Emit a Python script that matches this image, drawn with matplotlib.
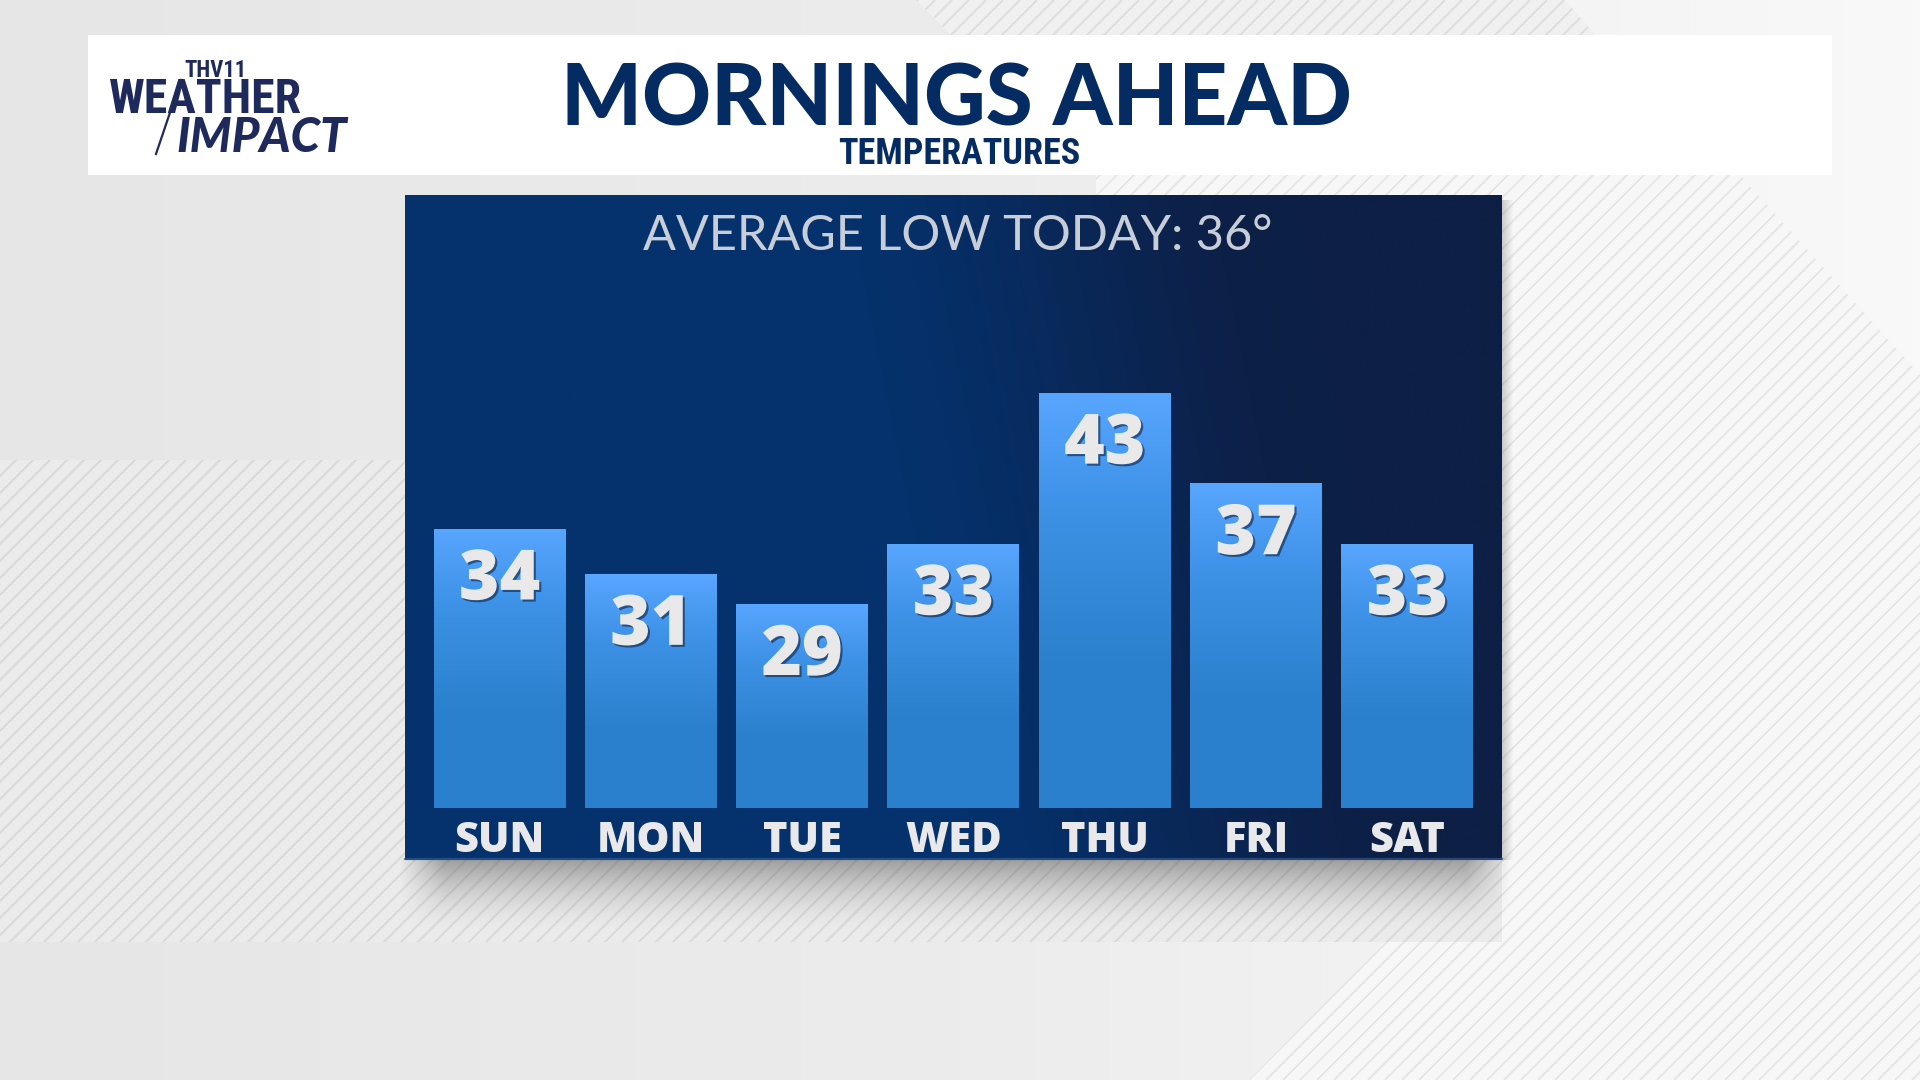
import numpy as np
import matplotlib
matplotlib.use("Agg")
import matplotlib.pyplot as plt
import matplotlib.patheffects as pe
from matplotlib.collections import LineCollection
from matplotlib.patches import Polygon, Rectangle
from matplotlib.colors import LinearSegmentedColormap, to_rgb

# ---- data ----
days = ["SUN", "MON", "TUE", "WED", "THU", "FRI", "SAT"]
lows = [34, 31, 29, 33, 43, 37, 33]
title = "MORNINGS AHEAD"
subtitle = "TEMPERATURES"
average_note = "AVERAGE LOW TODAY: 36\u00b0"

W, H = 1920, 1080
fig = plt.figure(figsize=(19.2, 10.8), dpi=100)

# background layer, drawn in pixel units
bg = fig.add_axes([0, 0, 1, 1])
bg.set_xlim(0, W)
bg.set_ylim(H, 0)
bg.axis("off")

base_cmap = LinearSegmentedColormap.from_list("base", ["#e6e6e6", "#ececec", "#f9f9f9"])
bg.imshow(np.linspace(0, 1, 256).reshape(1, -1), cmap=base_cmap,
          extent=(0, W, H, 0), aspect="auto", zorder=0)


def hatch(pts, line_color, face=None, lw=1.5, spacing=17):
    poly = Polygon(pts, closed=True, facecolor=face if face else "none",
                   edgecolor="none", zorder=1)
    bg.add_patch(poly)
    offs = np.arange(-H, W + H, spacing)
    segs = [[(o, H), (o + H, 0)] for o in offs]
    lc = LineCollection(segs, colors=line_color, linewidths=lw, zorder=2)
    bg.add_collection(lc)
    lc.set_clip_path(poly)


# top strip, lower band, right side
hatch([(916, 0), (1565, 0), (1596, 36), (952, 36)], "#dedede", face="#f0f0f0")
hatch([(0, 460), (1502, 460), (1502, 942), (0, 942)], "#d9d9d9", face="#ebebeb")
hatch([(1096, 175), (1740, 175), (1920, 375), (1920, H), (1249, H),
       (1384, 942), (1502, 942), (1502, 860), (1096, 860)], "#e6e6e6", face="#f7f7f7")

# header card
bg.add_patch(Rectangle((88, 35), 1744, 140, facecolor="white", edgecolor="none", zorder=3))

# panel shadow (soft, below and to the right)
ny, nx = 80, 300
yy = np.linspace(0, 1, ny)[:, None]
xx = np.linspace(0, 1, nx)[None, :]
edge = np.clip(np.minimum(xx, 1 - xx) / 0.04, 0, 1)
sh = np.zeros((ny, nx, 4))
sh[..., :3] = 0.3
sh[..., 3] = 0.5 * (1 - yy) ** 1.8 * edge
bg.imshow(sh, extent=(398, 1512, 935, 858), aspect="auto", zorder=3, interpolation="bilinear")
shr = np.zeros((2, 12, 4))
shr[..., :3] = 0.4
shr[..., 3] = np.linspace(0.3, 0.0, 12)[None, :]
bg.imshow(shr, extent=(1502, 1514, 860, 200), aspect="auto", zorder=3, interpolation="bilinear")

# panel gradient
px0, px1, py0, py1 = 405, 1502, 195, 860
gx = np.linspace(0, 1, 400)
gy = np.linspace(0, 1, 200)
GX, GY = np.meshgrid(gx, gy)
t = np.clip((GX - 0.42 + 0.12 * (0.5 - GY)) / 0.45, 0, 1)
t = t * t * (3 - 2 * t)
c0 = np.array(to_rgb("#05326d"))
c1 = np.array(to_rgb("#0d1f45"))
panel = c0[None, None, :] * (1 - t[..., None]) + c1[None, None, :] * t[..., None]
bg.imshow(panel, extent=(px0, px1, py1, py0), aspect="auto", zorder=4)
bg.plot([px0, px1], [py1 - 1.5, py1 - 1.5], color="#35598a", lw=1.6, alpha=0.7, zorder=5)
bg.set_xlim(0, W)
bg.set_ylim(H, 0)

# ---- bars ----
ax = fig.add_axes([px0 / W, 1 - 808 / H, (px1 - px0) / W, (808 - py0) / H])
ax.patch.set_alpha(0)
x = np.arange(len(days))
bars = ax.bar(x, lows, width=0.872, color="none", edgecolor="none")
bar_cmap = LinearSegmentedColormap.from_list(
    "bar", [(0, "#2a80cc"), (0.35, "#2b81cd"), (0.75, "#3f93e8"), (1, "#59a6ff")])
y_lo, y_hi = 15.5, 56.1
for b in bars:
    x0, w, h = b.get_x(), b.get_width(), b.get_height()
    im = ax.imshow(np.linspace(0, 1, 256).reshape(-1, 1), cmap=bar_cmap, origin="lower",
                   extent=(x0, x0 + w, y_lo, h), aspect="auto", zorder=2)
    im.set_clip_path(b)

for xi, v in zip(x, lows):
    ax.annotate(str(v), (xi, v), xytext=(0, -51), textcoords="offset points",
                ha="center", va="baseline", fontsize=50, fontweight=800,
                family=["Open Sans", "DejaVu Sans"], color="#e9e9e9", zorder=5,
                path_effects=[pe.withSimplePatchShadow(offset=(1.5, -1.5),
                                                       shadow_rgbFace="#0b2245", alpha=0.6)])

ax.set_xlim(-0.6246, 6.626)
ax.set_ylim(y_lo, y_hi)
ax.set_xticks(x, days)
ax.tick_params(axis="x", length=0, pad=31.5, labelsize=30, labelcolor="#e9e9eb")
ax.set_yticks([])
for lab in ax.get_xticklabels():
    lab.set_va("baseline")
    lab.set_fontweight(800)
    lab.set_family(["Open Sans", "DejaVu Sans"])
for s in ax.spines.values():
    s.set_visible(False)

# ---- texts ----
navy = "#1f2a5c"
narrow = ["Roboto Condensed", "Liberation Sans Narrow", "DejaVu Sans"]
t_avg = fig.text(958 / W, 1 - 250 / H, average_note, ha="center", va="baseline", fontsize=34,
                 family=["Lato", "DejaVu Sans"], fontweight="normal", color="#c8ced8")
t_title = fig.text(956 / W, 1 - 125 / H, title, ha="center", va="baseline", fontsize=64,
                   family=["Lato", "DejaVu Sans"], fontweight="black", color="#052c62")
t_sub = fig.text(959 / W, 1 - 164 / H, subtitle, ha="center", va="baseline", fontsize=29,
                 family=narrow, fontstretch="condensed", fontweight="bold", color="#052c62")

# logo
t_thv = fig.text(184 / W, 1 - 77 / H, "THV11", ha="left", va="baseline", fontsize=13,
                 family=narrow, fontstretch="condensed", fontweight="bold", color=navy)
t_wx = fig.text(109 / W, 1 - 113 / H, "WEATHER", ha="left", va="baseline", fontsize=33,
                family=narrow, fontstretch="condensed", fontweight="bold", color=navy)
t_imp = fig.text(176 / W, 1 - 152 / H, "IMPACT", ha="left", va="baseline", fontsize=34,
                 family=["Lato", "DejaVu Sans"], fontweight="black", style="italic", color=navy)
bg.plot([156, 181], [154, 80], color=navy, lw=1.6, zorder=6)

# scale each header text to the width it spans in the broadcast graphic
fig.canvas.draw()
rend = fig.canvas.get_renderer()
for txt, target in [(t_avg, 630), (t_title, 791), (t_sub, 242),
                    (t_thv, 62), (t_wx, 193), (t_imp, 171)]:
    wpx = txt.get_window_extent(renderer=rend).width
    txt.set_fontsize(txt.get_fontsize() * target / wpx)

fig.savefig("out.png", dpi=100)
